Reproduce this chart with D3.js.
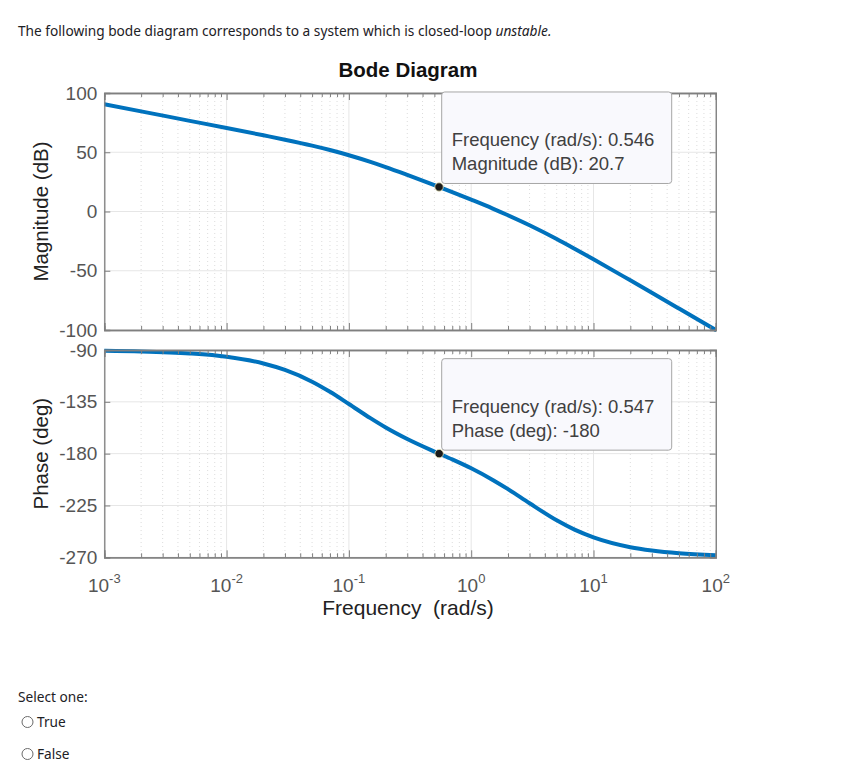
<!DOCTYPE html>
<html>
<head>
<meta charset="utf-8">
<script src="https://cdn.jsdelivr.net/npm/d3@7"></script>
<style>
  body { margin: 0; background: #fff; }
  svg { display: block; }
</style>
</head>
<body>
<div id="root"></div>
<script>
// data
var freqs = [0.001, 0.002, 0.005, 0.01, 0.02, 0.03, 0.05, 0.07, 0.1, 0.15, 0.2, 0.3, 0.5, 0.7, 1, 1.5, 2, 3, 5, 7, 10, 20, 30, 50, 100]
var magDb = [90.5, 84.5, 76.5, 70.5, 64.3, 60.6, 55.6, 51.9, 47.5, 41.9, 37.5, 30.9, 22.3, 16.4, 10.0, 2.5, -3.2, -11.6, -23.2, -31.4, -40.3, -58.1, -68.6, -81.9, -100.0]
var phaseDeg = [-90.6, -91.2, -93.0, -95.9, -101.7, -107.3, -117.5, -126.3, -136.9, -149.2, -157.3, -167.3, -178.2, -185.0, -192.7, -202.8, -210.8, -223.1, -237.9, -246.0, -252.7, -261.2, -264.1, -266.5, -268.2]
var magTicks = [-100, -50, 0, 50, 100]
var phaseTicks = [-270, -225, -180, -135, -90]
var decadeExps = [-3, -2, -1, 0, 1, 2]
var magTip = { w: 0.546, v: 20.7, lines: ['Frequency (rad/s): 0.546', 'Magnitude (dB): 20.7'] }
var phaseTip = { w: 0.547, v: -180, lines: ['Frequency (rad/s): 0.547', 'Phase (deg): -180'] }

var W = 853, H = 783
var font = '"Liberation Sans", Arial, Helvetica, sans-serif'
var uiFont = '"Noto Sans", "Open Sans", sans-serif'
var blue = '#0072bd'

var svg = d3.select('#root').append('svg')
    .attr('width', W)
    .attr('height', H)
svg.append('rect').attr('width', W).attr('height', H).attr('fill', '#fff')

// question text
var q = svg.append('text')
    .attr('x', 18).attr('y', 36)
    .attr('font-family', uiFont).attr('font-size', 13.7).attr('fill', '#1d2125')
q.append('tspan').text('The following bode diagram corresponds to a system which is closed-loop ')
q.append('tspan').attr('font-style', 'italic').text('unstable.')

// scales
var left = 104.3, right = 715.8
var X = d3.scaleLog().domain([1e-3, 1e2]).range([left, right])
var Ym = d3.scaleLinear().domain([-100, 100]).range([330, 93])
var Yp = d3.scaleLinear().domain([-270, -90]).range([557.3, 350])

// minor tick values
var minors = []
for (var e = -3; e < 2; e++) {
    for (var k = 2; k <= 9; k++) minors.push(k * Math.pow(10, e))
}
var decades = decadeExps.map(function (e) { return Math.pow(10, e) })

svg.append('text')
    .attr('x', 408).attr('y', 77)
    .attr('text-anchor', 'middle')
    .attr('font-family', font).attr('font-size', 20.5).attr('font-weight', 'bold')
    .attr('fill', '#111')
    .text('Bode Diagram')

function panel(Y, ticks, values, label, clipId) {
    var y0 = Y.range()[0], y1 = Y.range()[1]
    var g = svg.append('g')
    // grid
    g.selectAll('line.minor').data(minors).enter().append('line')
        .attr('x1', function (d) { return X(d) }).attr('x2', function (d) { return X(d) })
        .attr('y1', y1).attr('y2', y0)
        .attr('stroke', '#dcdcdc').attr('stroke-width', 1).attr('stroke-dasharray', '1,3')
    g.selectAll('line.vmaj').data(decades).enter().append('line')
        .attr('x1', function (d) { return X(d) }).attr('x2', function (d) { return X(d) })
        .attr('y1', y1).attr('y2', y0)
        .attr('stroke', '#e6e6e6').attr('stroke-width', 1)
    g.selectAll('line.hmaj').data(ticks).enter().append('line')
        .attr('x1', left).attr('x2', right)
        .attr('y1', function (d) { return Y(d) }).attr('y2', function (d) { return Y(d) })
        .attr('stroke', '#e6e6e6').attr('stroke-width', 1)

    // curve
    svg.append('clipPath').attr('id', clipId).append('rect')
        .attr('x', left).attr('y', y1 - 2).attr('width', right - left).attr('height', y0 - y1 + 4)
    var line = d3.line()
        .x(function (d, i) { return X(freqs[i]) })
        .y(function (d) { return Y(d) })
        .curve(d3.curveMonotoneX)
    g.append('path')
        .datum(values)
        .attr('d', line)
        .attr('fill', 'none')
        .attr('stroke', blue)
        .attr('stroke-width', 4)
        .attr('stroke-linecap', 'round')
        .attr('clip-path', 'url(#' + clipId + ')')

    // axes (ticks inward, box style)
    var axCol = '#7f7f7f'
    var yl = g.append('g').attr('transform', 'translate(' + left + ',0)')
        .call(d3.axisLeft(Y).tickValues(ticks).tickSize(-6).tickPadding(7)
            .tickFormat(function (d) { return String(d) }))
    var yr = g.append('g').attr('transform', 'translate(' + right + ',0)')
        .call(d3.axisRight(Y).tickValues(ticks).tickSize(-6).tickFormat(''))
    var xt = g.append('g').attr('transform', 'translate(0,' + y1 + ')')
        .call(d3.axisTop(X).tickValues(decades).tickSize(-7).tickFormat(''))
    var xtm = g.append('g').attr('transform', 'translate(0,' + y1 + ')')
        .call(d3.axisTop(X).tickValues(minors).tickSize(-4).tickFormat(''))
    var xb = g.append('g').attr('transform', 'translate(0,' + y0 + ')')
        .call(d3.axisBottom(X).tickValues(decades).tickSize(-7).tickFormat(''))
    var xbm = g.append('g').attr('transform', 'translate(0,' + y0 + ')')
        .call(d3.axisBottom(X).tickValues(minors).tickSize(-4).tickFormat(''))
    ;[yl, yr, xt, xtm, xb, xbm].forEach(function (a) {
        a.select('.domain').attr('stroke', axCol).attr('stroke-width', 1.3)
        a.selectAll('.tick line').attr('stroke', axCol)
    })
    yl.selectAll('.tick text')
        .attr('font-family', font).attr('font-size', 19).attr('fill', '#555')

    svg.append('text')
        .attr('transform', 'translate(48,' + ((y0 + y1) / 2) + ') rotate(-90)')
        .attr('text-anchor', 'middle')
        .attr('font-family', font).attr('font-size', 20.5).attr('fill', '#222')
        .text(label)
    return g
}

panel(Ym, magTicks, magDb, 'Magnitude (dB)', 'clipMag')
panel(Yp, phaseTicks, phaseDeg, 'Phase (deg)', 'clipPhase')

// x tick labels
var xl = svg.append('g')
xl.selectAll('text').data(decadeExps).enter().append('text')
    .attr('x', function (d) { return X(Math.pow(10, d)) })
    .attr('y', 592)
    .attr('text-anchor', 'middle')
    .attr('font-family', font).attr('font-size', 19).attr('fill', '#555')
    .each(function (d) {
        var t = d3.select(this)
        t.append('tspan').text('10')
        t.append('tspan').attr('dy', -9).attr('font-size', 13).text(String(d))
    })

svg.append('text')
    .attr('x', 408).attr('y', 615)
    .attr('text-anchor', 'middle')
    .attr('font-family', font).attr('font-size', 21).attr('fill', '#222')
    .attr('xml:space', 'preserve')
    .text('Frequency  (rad/s)')

// data tips
function dataTip(tip, Y) {
    var px = X(tip.w), py = Y(tip.v)
    var bx = 441.7, by = py - 95
    var g = svg.append('g')
    g.append('rect')
        .attr('x', bx).attr('y', by).attr('width', 230).attr('height', 91.5)
        .attr('rx', 3).attr('ry', 3)
        .attr('fill', '#f9f9fd').attr('stroke', '#a6a6a6').attr('stroke-width', 1)
    g.selectAll('text').data(tip.lines).enter().append('text')
        .attr('x', bx + 10)
        .attr('y', function (d, i) { return by + 54 + i * 24 })
        .attr('font-family', font).attr('font-size', 18.5).attr('fill', '#404040')
        .text(function (d) { return d })
    g.append('circle')
        .attr('cx', px).attr('cy', py).attr('r', 4.2)
        .attr('fill', '#1a1a1a').attr('stroke', '#e9e4b8').attr('stroke-width', 0.8)
}
dataTip(magTip, Ym)
dataTip(phaseTip, Yp)

// answer options
svg.append('text')
    .attr('x', 18).attr('y', 702)
    .attr('font-family', uiFont).attr('font-size', 13.7).attr('fill', '#1d2125')
    .text('Select one:')
var opts = ['True', 'False']
var og = svg.selectAll('g.opt').data(opts).enter().append('g').attr('class', 'opt')
    .attr('transform', function (d, i) { return 'translate(0,' + (722 + i * 32) + ')' })
og.append('circle').attr('cx', 27.5).attr('cy', 0).attr('r', 5.5)
    .attr('fill', '#fff').attr('stroke', '#6a6a6a').attr('stroke-width', 1)
og.append('text').attr('x', 37).attr('y', 4.7)
    .attr('font-family', uiFont).attr('font-size', 13.7).attr('fill', '#1d2125')
    .text(function (d) { return d })
</script>
</body>
</html>
